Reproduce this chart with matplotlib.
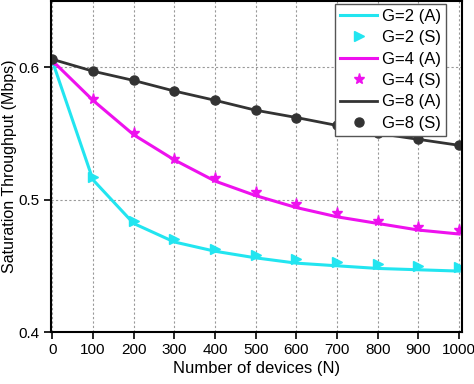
import matplotlib
matplotlib.use("Agg")
import matplotlib.pyplot as plt

plt.rcParams['font.family'] = ['Liberation Sans', 'DejaVu Sans']

N = [0, 100, 200, 300, 400, 500, 600, 700, 800, 900, 1000]

g2_ana = [0.605, 0.515, 0.482, 0.468, 0.461, 0.456, 0.452, 0.450, 0.448, 0.447, 0.446]
g2_sim = [0.605, 0.517, 0.484, 0.470, 0.463, 0.458, 0.455, 0.4525, 0.451, 0.4495, 0.449]
g4_ana = [0.605, 0.575, 0.549, 0.530, 0.514, 0.503, 0.494, 0.487, 0.482, 0.477, 0.474]
g4_sim = [0.605, 0.576, 0.550, 0.531, 0.516, 0.5055, 0.497, 0.490, 0.484, 0.4795, 0.477]
g8_ana = [0.606, 0.597, 0.590, 0.582, 0.575, 0.5675, 0.562, 0.556, 0.550, 0.5455, 0.541]
g8_sim = [0.606, 0.597, 0.590, 0.582, 0.575, 0.5675, 0.562, 0.556, 0.550, 0.5455, 0.541]

xticks = [0, 100, 200, 300, 400, 500, 600, 700, 800, 900, 1000]
yticks = [0.4, 0.5, 0.6]

fig = plt.figure(figsize=(4.74, 3.84), dpi=100)
ax = fig.add_axes([51/474, 52/384, 411/474, 331/384])

cyan = '#22e5f0'
mag = '#ee11ee'
dark = '#333333'

ax.plot(N, g2_ana, color=cyan, lw=2.2, label='G=2 (A)')
ax.plot(N, g2_sim, ls='none', marker='>', color=cyan, ms=7, label='G=2 (S)')
ax.plot(N, g4_ana, color=mag, lw=2.2, label='G=4 (A)')
ax.plot(N, g4_sim, ls='none', marker='*', color=mag, ms=8, label='G=4 (S)')
ax.plot(N, g8_ana, color=dark, lw=2.0, label='G=8 (A)')
ax.plot(N, g8_sim, ls='none', marker='o', color=dark, ms=6.5, label='G=8 (S)')

ax.set_xlim(-3, 1007)
ax.set_ylim(0.4, 0.65)
ax.set_xticks(xticks)
ax.set_yticks(yticks)
ax.set_yticklabels([f'{v:.1f}' for v in yticks])
ax.tick_params(direction='out', length=5, width=1.2, labelsize=11, colors='black', pad=3)
ax.grid(True, ls=(0, (2, 2)), color='#999999', lw=0.8)
for s in ax.spines.values():
    s.set_linewidth(1.5)

ax.set_xlabel('Number of devices (N)', fontsize=12, labelpad=3)
ax.set_ylabel('Saturation Throughput (Mbps)', fontsize=11.5)
ax.yaxis.set_label_coords(-34/411, 0.5)

leg = ax.legend(loc='upper right', bbox_to_anchor=(446/474, 380/384),
                bbox_transform=fig.transFigure,
                fontsize=12, frameon=True, fancybox=False,
                edgecolor='#555555', framealpha=1, borderpad=0.3, labelspacing=0.38,
                handlelength=2.2, handletextpad=0.3, borderaxespad=0.0)
leg.get_frame().set_linewidth(1.0)

fig.savefig('out.png', dpi=100)
